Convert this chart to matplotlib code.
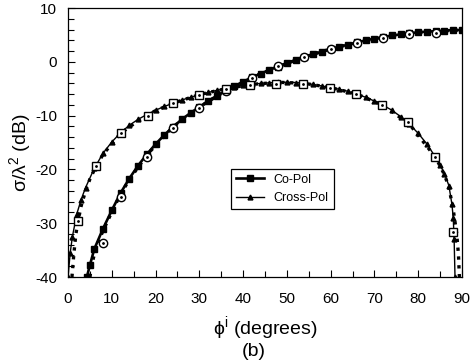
import numpy as np
import matplotlib.pyplot as plt
from matplotlib.ticker import MultipleLocator

plt.rcParams['font.family'] = ['Liberation Sans', 'DejaVu Sans']
plt.rcParams['axes.unicode_minus'] = False
plt.rcParams['mathtext.fontset'] = 'custom'
plt.rcParams['mathtext.rm'] = 'Liberation Sans'

# Co-Pol (solid, filled squares)
co_x = [4.3, 5, 6, 8, 10, 12, 14, 16, 18, 20, 22, 24, 26, 28, 30, 32, 34, 36, 38, 40,
        42, 44, 46, 48, 50, 52, 54, 56, 58, 60, 62, 64, 66, 68, 70, 72, 74, 76, 78, 80,
        82, 84, 86, 88, 90]
co_y = [-40, -37.8, -34.8, -31.0, -27.6, -24.4, -21.7, -19.3, -17.2, -15.3, -13.6, -12.1,
        -10.7, -9.5, -8.4, -7.3, -6.3, -5.4, -4.5, -3.7, -2.9, -2.2, -1.5, -0.9, -0.3, 0.3,
        0.9, 1.4, 1.9, 2.4, 2.8, 3.2, 3.6, 4.0, 4.3, 4.6, 4.9, 5.1, 5.3, 5.5, 5.6, 5.7, 5.8,
        5.9, 5.9]

# Co-Pol dotted curve
co_dot_x = [5.0, 5.5, 6, 7, 8, 10, 12, 14, 18, 24, 30, 36, 42, 48, 54, 60, 66, 72, 78, 84, 90]
co_dot_y = [-40, -37.5, -35.8, -33.3, -31.4, -27.9, -24.6, -21.9, -17.3, -12.1, -8.4, -5.4,
            -2.9, -0.9, 0.9, 2.4, 3.6, 4.6, 5.3, 5.7, 5.9]

# Cross-Pol (thin, triangles)
cr_x = [0, 0.5, 1, 2, 3, 4, 6, 8, 10, 12, 14, 16, 18, 20, 22, 24, 26, 28, 30, 32, 34, 36,
        38, 40, 42, 44, 46, 48, 50, 52, 54, 56, 58, 60, 62, 64, 66, 68, 70, 72, 74, 76, 78,
        80, 82, 84, 85, 86, 87, 87.7, 88, 88.2, 88.4]
cr_y = [-40, -35.5, -32.5, -28.3, -25.6, -23.4, -19.8, -17.0, -14.9, -13.2, -11.8, -10.7,
        -9.8, -9.0, -8.3, -7.7, -7.1, -6.6, -6.1, -5.7, -5.3, -5.0, -4.7, -4.4, -4.2, -4.0,
        -3.9, -3.8, -3.8, -3.85, -4.0, -4.2, -4.5, -4.8, -5.1, -5.5, -6.0, -6.6, -7.3, -8.1,
        -9.0, -10.2, -11.6, -13.3, -15.3, -17.8, -19.2, -20.8, -23.0, -26.5, -29, -33, -40]

# Cross-Pol dotted curve
cr_dot_x = [0.9, 1.3, 1.8, 2.3, 3, 4, 5, 6, 8, 12, 18, 24, 30, 36, 42, 48, 54, 60, 66, 72,
            78, 84, 86, 87, 88, 88.8, 89.2, 89.4]
cr_dot_y = [-40, -36, -32, -29.6, -26.8, -24, -21.8, -20.1, -17.2, -13.3, -9.8, -7.7, -6.1,
            -5.0, -4.2, -3.8, -4.0, -4.8, -6.0, -8.1, -11.6, -17.8, -21.0, -23.3, -27.5, -32,
            -36, -40]

# open markers (dotted centre)
circ_x = [8, 12, 18, 24, 30, 36, 42, 48, 54, 60, 66, 72, 78, 84]
circ_y = [-33.7, -25.1, -17.7, -12.3, -8.6, -5.4, -3.0, -0.8, 0.9, 2.4, 3.5, 4.5, 5.1, 5.4]
sq_x = [2.3, 6.3, 12.2, 18.2, 24, 30, 36, 41.5, 47.6, 53.7, 59.8, 65.8, 71.7, 77.6, 83.8, 87.9]
sq_y = [-29.6, -19.4, -13.2, -10.0, -7.7, -6.2, -5.0, -4.3, -4.1, -4.1, -4.9, -6.0, -8.0,
        -11.2, -17.7, -31.6]

fig = plt.figure(figsize=(4.74, 3.64), dpi=100)
ax = fig.add_axes([0.1435, 0.239, 0.8312, 0.739])

ax.plot(co_dot_x, co_dot_y, ':', color='black', lw=2.4)
ax.plot(cr_dot_x, cr_dot_y, ':', color='black', lw=2.4)
ax.plot(co_x, co_y, '-', color='black', lw=1.9, marker='s', ms=4, label='Co-Pol')
ax.plot(cr_x, cr_y, '-', color='black', lw=1.0, marker='^', ms=3.5, label='Cross-Pol')
ax.plot(circ_x, circ_y, 'o', mfc='white', mec='black', ms=6, mew=1)
ax.plot(circ_x, circ_y, '.', color='black', ms=2)
ax.plot(sq_x, sq_y, 's', mfc='white', mec='black', ms=6, mew=1)
ax.plot(sq_x, sq_y, '.', color='black', ms=2)

ax.set_xlim(0, 90)
ax.set_ylim(-40, 10)
ax.xaxis.set_major_locator(MultipleLocator(10))
ax.xaxis.set_minor_locator(MultipleLocator(5))
ax.yaxis.set_major_locator(MultipleLocator(10))
ax.yaxis.set_minor_locator(MultipleLocator(2))
ax.tick_params(which='both', direction='in', labelsize=11, width=0.8)
ax.tick_params(which='major', length=5)
ax.tick_params(which='minor', length=4)
ax.tick_params(axis='x', pad=11)
ax.tick_params(axis='y', pad=8)
for s in ax.spines.values():
    s.set_linewidth(0.9)

fig.text(0.042, 0.58, r'$\mathregular{\sigma/\lambda^2}$ (dB)', fontsize=14,
         rotation=90, ha='center', va='center')
fig.text(0.56, 0.10, r'$\mathregular{\phi^i}$ (degrees)', fontsize=14, ha='center', va='center')
fig.text(0.535, 0.033, '(b)', fontsize=14, ha='center', va='center')

leg = ax.legend(loc='lower left', bbox_to_anchor=(0.414, 0.253), borderaxespad=0,
                fancybox=False, edgecolor='black', fontsize=9, handlelength=2.2,
                framealpha=1)
leg.get_frame().set_linewidth(0.9)

fig.savefig('out.png', dpi=100)
